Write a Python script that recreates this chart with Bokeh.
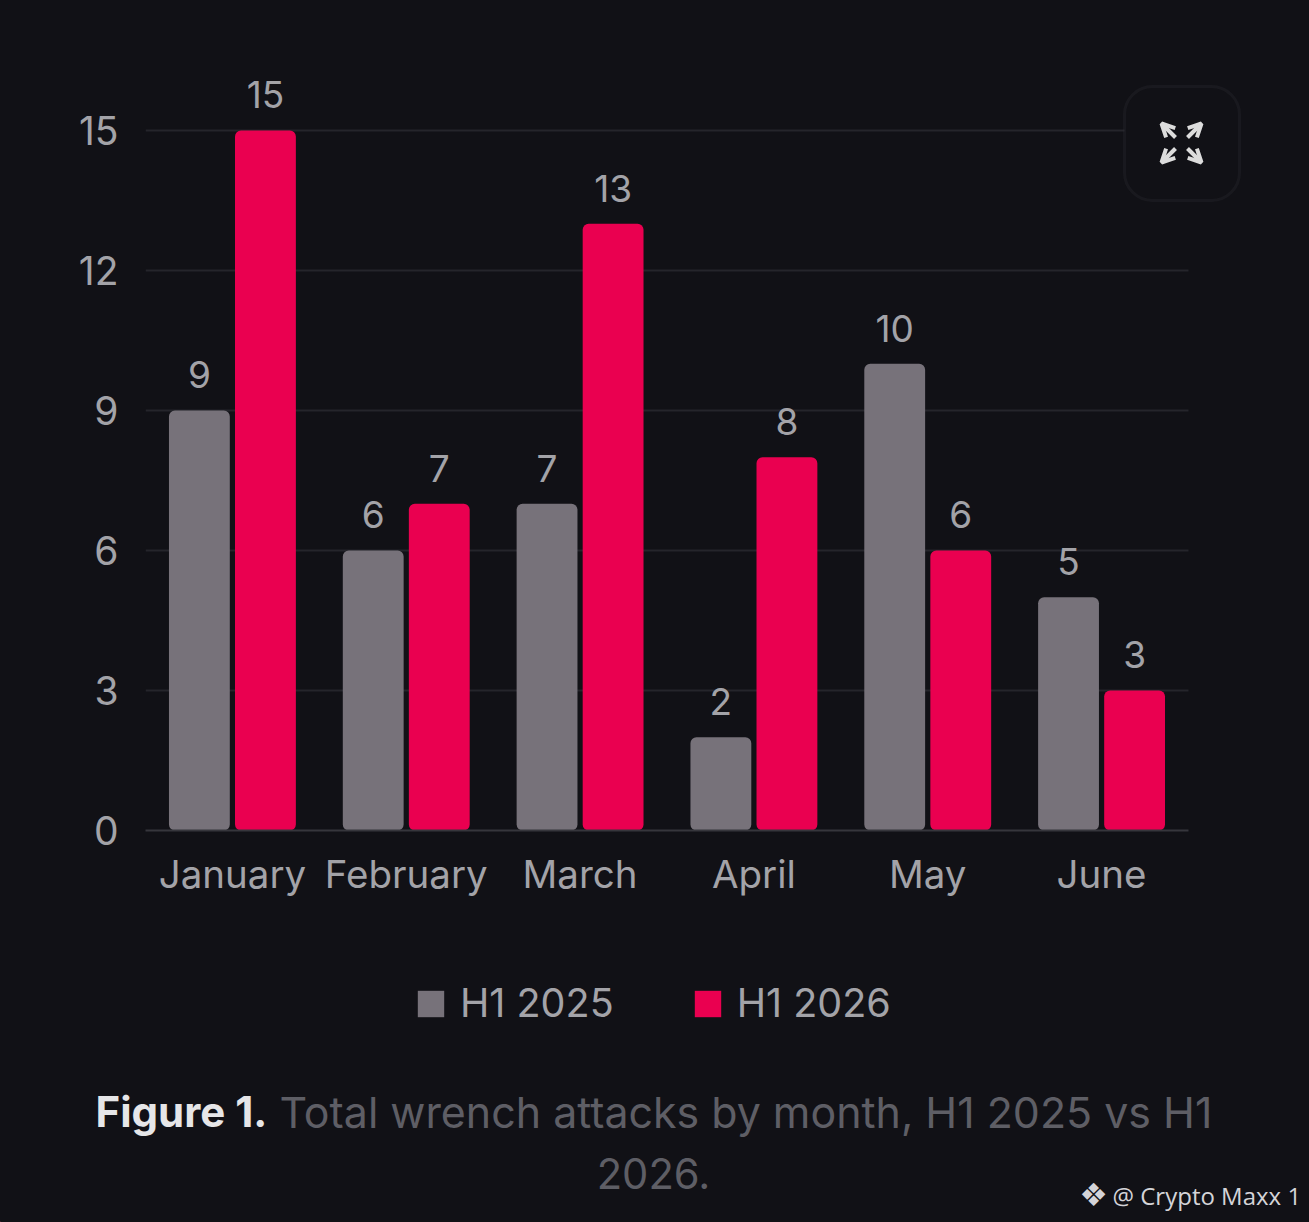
from bokeh.plotting import figure
from bokeh.layouts import column
from bokeh.embed import file_html
from bokeh.resources import INLINE
from bokeh.core.properties import value
from bokeh.models import (ColumnDataSource, Range1d, FixedTicker, Legend, LegendItem,
                          Label, BoxAnnotation, Arrow, OpenHead)
from bokeh.transform import dodge

months = ["January", "February", "March", "April", "May", "June"]
h1_2025 = [9, 6, 7, 2, 10, 5]
h1_2026 = [15, 7, 13, 8, 6, 3]
y_ticks = [0, 3, 6, 9, 12, 15]
caption_bold = "Figure 1."
caption_line1 = "Total wrench attacks by month, H1 2025 vs H1"
caption_line2 = "2026."
watermark = "@ Crypto Maxx 1"

BG = "#111116"
GRAY = "#77727a"
RED = "#ea0050"
TXT = "#a3a3a8"
W, H, H_TOP = 1309, 1222, 930
LEFT, AXIS_Y = 145, 830
CAT_PX = 173.83
UNIT_PX = 46.667

pos = [i + 0.5 for i in range(len(months))]
src = ColumnDataSource(dict(pos=pos, a=h1_2025, b=h1_2026,
                            a_txt=[str(v) for v in h1_2025], b_txt=[str(v) for v in h1_2026]))

p = figure(width=W, height=H_TOP, x_range=Range1d(0, (W - LEFT) / CAT_PX), y_range=Range1d(0, AXIS_Y / UNIT_PX),
           output_backend="svg", toolbar_location=None,
           min_border_left=LEFT, min_border_right=0, min_border_top=0, min_border_bottom=H_TOP - AXIS_Y,
           background_fill_alpha=0, border_fill_alpha=0, outline_line_color=None,
           styles={"background-color": BG})
p.frame_align = False

ra = p.vbar(x=dodge("pos", -0.19, range=p.x_range), top="a", width=0.35, source=src,
            fill_color=GRAY, line_color=None, border_radius=6)
rb = p.vbar(x=dodge("pos", 0.19, range=p.x_range), top="b", width=0.35, source=src,
            fill_color=RED, line_color=None, border_radius=6)

for col, num, off in (("a_txt", "a", -0.19), ("b_txt", "b", 0.19)):
    p.text(x=dodge("pos", off, range=p.x_range), y=num, text=col, source=src, y_offset=-22,
           text_align="center", text_baseline="bottom", text_color=TXT,
           text_font=value("Inter"), text_font_size="37px")

p.xaxis.ticker = FixedTicker(ticks=pos)
p.xaxis.major_label_overrides = dict(zip(pos, months))
p.xaxis.bounds = (0, len(months))
p.xaxis.axis_line_color = "#36363c"
p.xaxis.axis_line_width = 2
p.xaxis.major_tick_line_color = None
p.xaxis.minor_tick_line_color = None
p.xaxis.major_label_text_color = TXT
p.xaxis.major_label_text_font = "Inter"
p.xaxis.major_label_text_font_size = "38.5px"
p.xaxis.major_label_standoff = 14

p.yaxis.ticker = FixedTicker(ticks=y_ticks)
p.yaxis.axis_line_color = None
p.yaxis.major_tick_line_color = None
p.yaxis.minor_tick_line_color = None
p.yaxis.major_label_text_color = TXT
p.yaxis.major_label_text_font = "Inter"
p.yaxis.major_label_text_font_size = "39px"
p.yaxis.major_label_standoff = 21

p.xgrid.grid_line_color = None
p.ygrid.ticker = FixedTicker(ticks=y_ticks)
p.ygrid.cross_bounds = (0, len(months))
p.ygrid.grid_line_color = "#25252b"
p.ygrid.grid_line_width = 2

p.add_layout(BoxAnnotation(left=1124, right=1239, top=86, bottom=200,
                           left_units="canvas", right_units="canvas", top_units="canvas", bottom_units="canvas",
                           fill_color=BG, fill_alpha=1, line_color="#2e2e35", line_width=3, border_radius=28))
for x0, y0, x1, y1 in [(1175, 137, 1161, 123), (1187, 137, 1201, 123), (1175, 148, 1161, 162), (1187, 148, 1201, 162)]:
    p.add_layout(Arrow(end=OpenHead(size=13, line_color="#dcdcdc", line_width=4),
                       x_start=x0, y_start=y0, x_end=x1, y_end=y1,
                       start_units="canvas", end_units="canvas", line_color="#dcdcdc", line_width=4))

# lower panel: legend, caption and watermark
q = figure(width=W, height=H - H_TOP, x_range=Range1d(0, W), y_range=Range1d(0, H - H_TOP),
           output_backend="svg", toolbar_location=None, x_axis_type=None, y_axis_type=None,
           min_border=0, background_fill_alpha=0, border_fill_alpha=0, outline_line_color=None,
           styles={"background-color": BG})
q.frame_align = False
q.grid.visible = False
la = q.vbar(x=[-100], top=[1], width=1, fill_color=GRAY, line_color=None)
lb = q.vbar(x=[-100], top=[1], width=1, fill_color=RED, line_color=None)
legend = Legend(items=[LegendItem(label="H1 2025", renderers=[la]), LegendItem(label="H1 2026", renderers=[lb])],
                orientation="horizontal", location=(414, 195), margin=0, padding=0, spacing=77,
                glyph_width=33, glyph_height=33, label_standoff=13,
                label_text_font="Inter", label_text_font_size="39.5px", label_text_color=TXT,
                background_fill_alpha=0, border_line_alpha=0)
q.add_layout(legend, "center")


def label(text, x, y, color, size, font="Inter", style="normal", align="left"):
    q.add_layout(Label(x=x, y=y - H_TOP, x_units="canvas", y_units="canvas", text=text,
                       text_color=color, text_font=font, text_font_size=size, text_font_style=style,
                       text_align=align, text_baseline="middle"))


label(caption_bold, 95, 1111, "#e6e6e8", "42px", style="bold")
label(caption_line1, 279, 1111, "#5e5e65", "42.9px")
label(caption_line2, 653, 1173, "#5e5e65", "41.7px", align="center")
label(watermark, 1112, 1195, "#d4d4d8", "24px", font="Open Sans")
label("\u2756", 1093, 1194, "#d4d4d8", "32px", font="DejaVu Sans", align="center")

page = column(p, q, spacing=0, styles={"background-color": BG})

open("out.html", "w").write(file_html(page, INLINE))
